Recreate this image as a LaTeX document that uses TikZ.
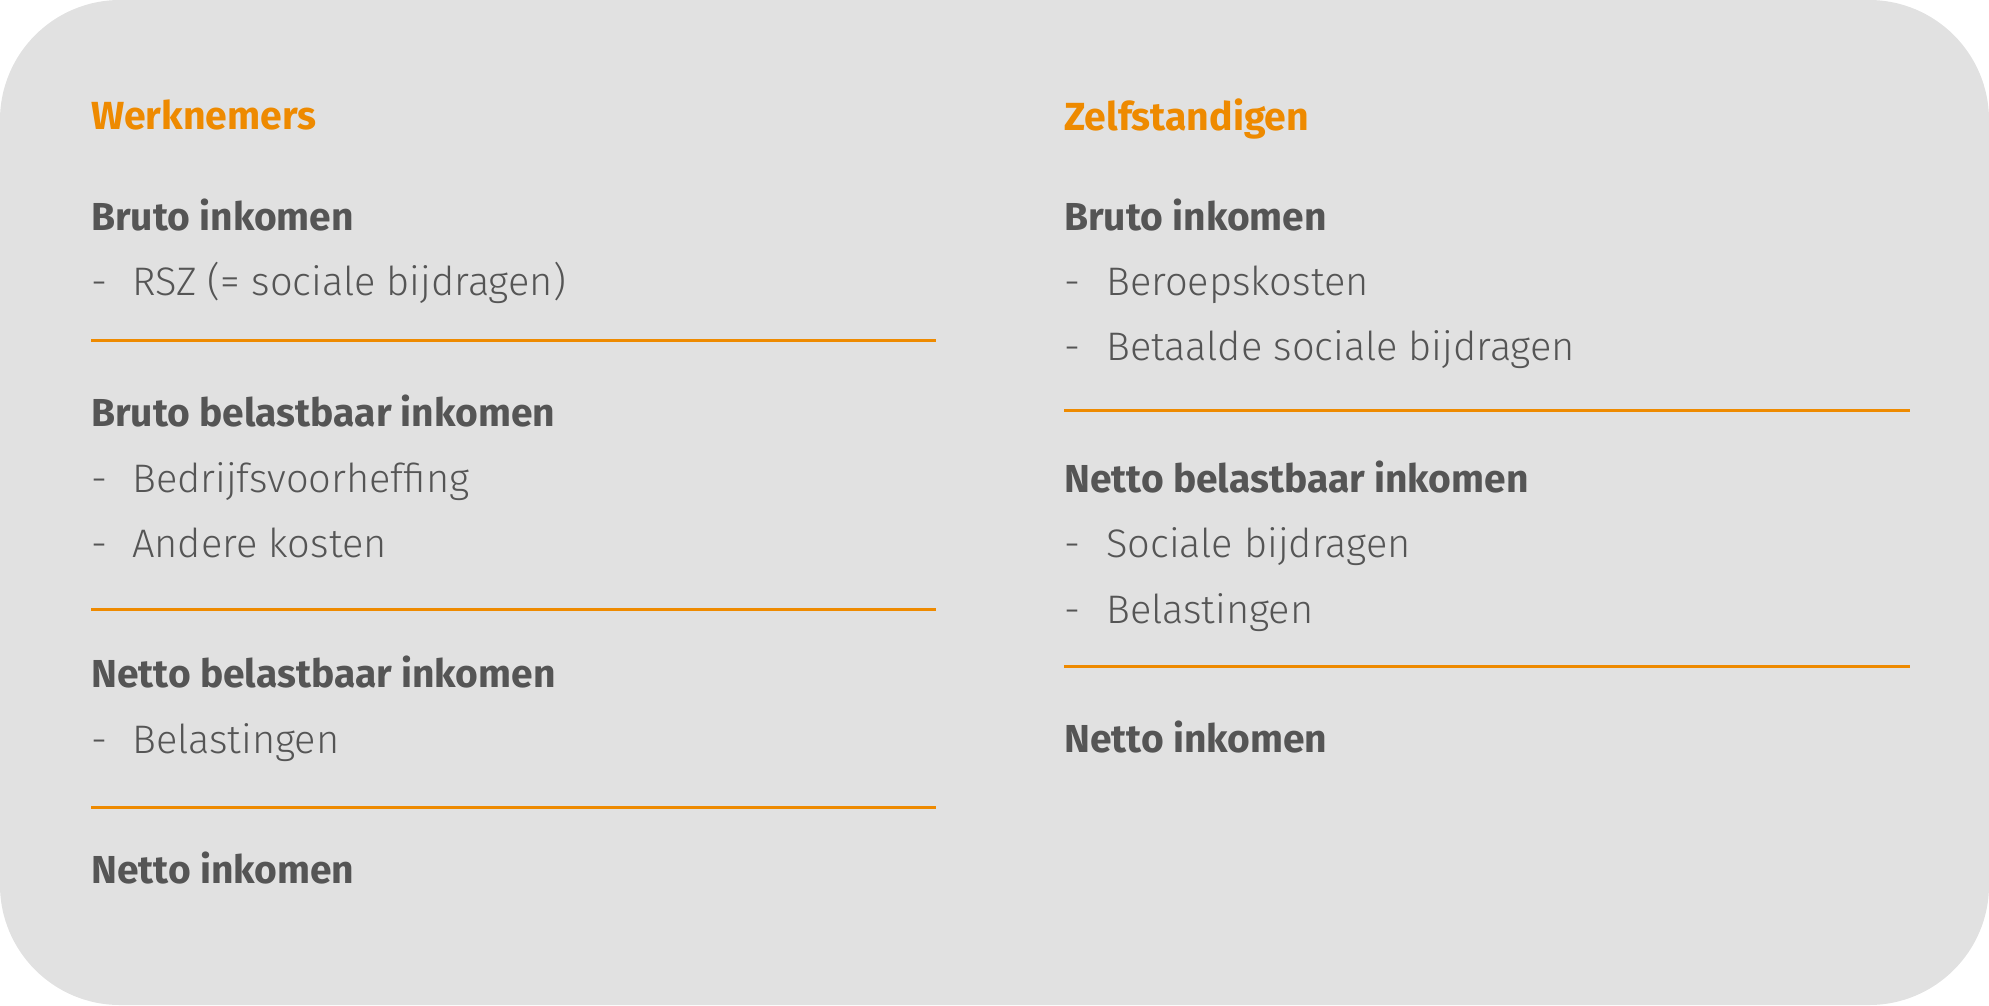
\documentclass[tikz,border=0pt]{standalone}
\usepackage{fontspec}
\setmainfont{Fira Sans}[UprightFont={* Light},BoldFont={* Bold}]
\definecolor{bgc}{HTML}{E1E1E1}
\definecolor{orng}{HTML}{EE8A00}
\definecolor{txt}{HTML}{555555}
\begin{document}
\begin{tikzpicture}[x=1pt,y=-1pt,
  every node/.style={inner sep=0pt,anchor=base west},
  title/.style={font=\fontsize{39.2}{42}\selectfont\bfseries,text=orng},
  head/.style={font=\fontsize{39}{42}\selectfont\bfseries,text=txt},
  item/.style={font=\fontsize{39.8}{44}\selectfont,text=txt},
  sep/.style={draw=orng,line width=3pt}]
\useasboundingbox (0,0) rectangle (1989,1005);
\fill[bgc,rounded corners=120pt] (0,0) rectangle (1989,1005);
% left column
\node[title] (w) at (91,129) {Werknemers};
\node[head] (l1) at (91,230) {Bruto inkomen};
\node[item] (l1d) at (91,295) {-};
\node[item] (l1a) at (132,295) {RSZ (= sociale bijdragen)};
\coordinate (s1a) at (91,340); \coordinate (s1b) at (936,340);
\draw[sep] (s1a) -- (s1b);
\node[head] (l2) at (91,426) {Bruto belastbaar inkomen};
\node[item] (l2d) at (91,492) {-};
\node[item] (l2a) at (132,492) {Bedrijfsvoorheffing};
\node[item] (l2e) at (91,557) {-};
\node[item] (l2b) at (132,557) {Andere kosten};
\coordinate (s2a) at (91,609); \coordinate (s2b) at (936,609);
\draw[sep] (s2a) -- (s2b);
\node[head] (l3) at (91,687) {Netto belastbaar inkomen};
\node[item] (l3d) at (91,753) {-};
\node[item] (l3a) at (132,753) {Belastingen};
\coordinate (s3a) at (91,807); \coordinate (s3b) at (936,807);
\draw[sep] (s3a) -- (s3b);
\node[head] (l4) at (91,883) {Netto inkomen};
% right column
\node[title] (z) at (1064,130) {Zelfstandigen};
\node[head] (r1) at (1064,230) {Bruto inkomen};
\node[item] (r1d) at (1064,295) {-};
\node[item] (r1a) at (1106,295) {Beroepskosten};
\node[item] (r1e) at (1064,360) {-};
\node[item] (r1b) at (1106,360) {Betaalde sociale bijdragen};
\coordinate (t1a) at (1064,410); \coordinate (t1b) at (1910,410);
\draw[sep] (t1a) -- (t1b);
\node[head] (r2) at (1064,492) {Netto belastbaar inkomen};
\node[item] (r2d) at (1064,557) {-};
\node[item] (r2a) at (1106,557) {Sociale bijdragen};
\node[item] (r2e) at (1064,623) {-};
\node[item] (r2b) at (1106,623) {Belastingen};
\coordinate (t2a) at (1064,666); \coordinate (t2b) at (1910,666);
\draw[sep] (t2a) -- (t2b);
\node[head] (r3) at (1064,752) {Netto inkomen};
\end{tikzpicture}
\end{document}
